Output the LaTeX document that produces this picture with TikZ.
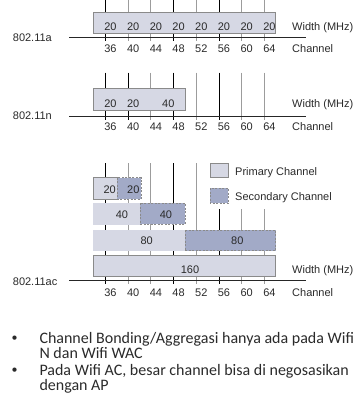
\documentclass[tikz,border=0pt]{standalone}
\usepackage{fontspec}
\setmainfont{Liberation Sans}
\newfontfamily\notefont{Carlito}
\definecolor{primfill}{HTML}{D6D8E4}
\definecolor{secfill}{HTML}{A2AAC7}
\definecolor{tickgray}{HTML}{9C9C9C}
\definecolor{boxline}{HTML}{8A8A8A}
\definecolor{textgray}{HTML}{2A2A2A}

\begin{document}
\begin{tikzpicture}[x=1pt,y=-1pt,
  txt/.style={font=\fontsize{11}{13}\selectfont, text=textgray, inner sep=0pt, anchor=base},
  lefttxt/.style={txt, anchor=base west},
  note/.style={font=\notefont\fontsize{16}{15}\selectfont, text=textgray, inner sep=0pt, anchor=base west},
  dotnote/.style={note, font=\notefont\fontsize{12}{12}\selectfont},
  axis/.style={line width=1.4pt, draw=black!85},
  primbox/.style={fill=primfill, draw=boxline, line width=0.6pt},
  secbox/.style={fill=secfill, draw=boxline, line width=0.7pt, dashed, dash pattern=on 2pt off 1.5pt}]
	\useasboundingbox (0,0) rectangle (360,400);

	% 802.11a
	\foreach \i/\c in {0/black,1/tickgray,2/tickgray,3/black,4/tickgray,5/black,6/tickgray,7/tickgray}
		\draw[\c, line width=1pt] ({105.5+22.7*\i},0) -- ({105.5+22.7*\i},40.5);
	\draw[primbox] (93.7,12.3) rectangle (275.7,33.7);
	\foreach \i/\ch in {0/36,1/40,2/44,3/48,4/52,5/56,6/60,7/64} {
		\node[txt] (wa\ch) at ({110.5+22.7*\i},30.7) {20};
		\node[txt] (ca\ch) at ({110.5+22.7*\i},52.3) {\ch};
	}
	\draw[axis] (69,37.7) -- (306,37.7);
	\node[lefttxt] (stda) at (12.7,41) {802.11a};
	\node[lefttxt] (widtha) at (292,30.7) {Width (MHz)};
	\node[lefttxt] (chana) at (292,52.3) {Channel};

	% 802.11n
	\foreach \i/\c in {0/black,1/black,2/tickgray,3/black,4/tickgray,5/black,6/tickgray,7/tickgray}
		\draw[\c, line width=1pt] ({105.5+22.7*\i},72.7) -- ({105.5+22.7*\i},119.5);
	\draw[primbox] (93.7,88.3) rectangle (185.3,110);
	\node[txt] (wn36) at (110.5,107.5) {20};
	\node[txt] (wn40) at (133.2,107.5) {20};
	\node[txt] (wn48) at (168.3,107.5) {40};
	\foreach \i/\ch in {0/36,1/40,2/44,3/48,4/52,5/56,6/60,7/64}
		\node[txt] (cn\ch) at ({110.5+22.7*\i},130.3) {\ch};
	\draw[axis] (69,116.7) -- (306,116.7);
	\node[lefttxt] (stdn) at (12.7,119) {802.11n};
	\node[lefttxt] (widthn) at (292,107.5) {Width (MHz)};
	\node[lefttxt] (chann) at (292,130.3) {Channel};

	% 802.11ac
	\foreach \i/\c/\top in {0/black/163.3,1/tickgray/163.3,2/tickgray/163.3,3/black/163.3,4/tickgray/163.3,5/black/209.3,6/tickgray/209.3,7/tickgray/209.3}
		\draw[\c, line width=1pt] ({105.5+22.7*\i},\top) -- ({105.5+22.7*\i},283.5);
	\draw[primbox] (93.7,177.7) rectangle (117.3,199.3);
	\draw[secbox] (117.3,177.7) rectangle (141,199.3);
	\draw[primbox, draw=primfill] (93.7,203.3) rectangle (140,224);
	\draw[secbox] (140,203.3) rectangle (185.3,224);
	\draw[primbox, draw=primfill] (93.7,230) rectangle (185,250.7);
	\draw[secbox] (185,230) rectangle (275.7,250.7);
	\draw[primbox] (93.7,255.3) rectangle (275.7,276.7);
	\node[txt] (p20) at (109.7,193.5) {20};
	\node[txt] (s20) at (133.3,193.5) {20};
	\node[txt] (p40) at (122,218.5) {40};
	\node[txt] (s40) at (166,218.5) {40};
	\node[txt] (p80) at (146.7,244.2) {80};
	\node[txt] (s80) at (237.3,244.2) {80};
	\node[txt] (p160) at (190,273.5) {160};
	\foreach \i/\ch in {0/36,1/40,2/44,3/48,4/52,5/56,6/60,7/64}
		\node[txt] (cac\ch) at ({110.5+22.7*\i},296) {\ch};
	\draw[axis] (69,280.7) -- (306,280.7);
	\node[lefttxt] (stdac) at (12.7,285.5) {802.11ac};
	\node[lefttxt] (widthac) at (292,273.7) {Width (MHz)};
	\node[lefttxt] (chanac) at (292,296) {Channel};

	% legend
	\draw[primbox] (210,163.3) rectangle (228.3,177.7);
	\node[lefttxt] (legprim) at (235,175.5) {Primary Channel};
	\draw[secbox] (210,188.3) rectangle (228.3,203.3);
	\node[lefttxt] (legsec) at (235,200.5) {Secondary Channel};

	% notes
	\node[dotnote] (dot1) at (11.5,341.5) {•};
	\node[note] (line1) at (39.3,343.3) {Channel Bonding/Aggregasi hanya ada pada Wifi};
	\node[note] (line2) at (39.3,358.3) {N dan Wifi WAC};
	\node[dotnote] (dot2) at (11.5,373.2) {•};
	\node[note] (line3) at (39.3,375) {Pada Wifi AC, besar channel bisa di negosasikan};
	\node[note] (line4) at (39.3,390) {dengan AP};
\end{tikzpicture}
\end{document}
